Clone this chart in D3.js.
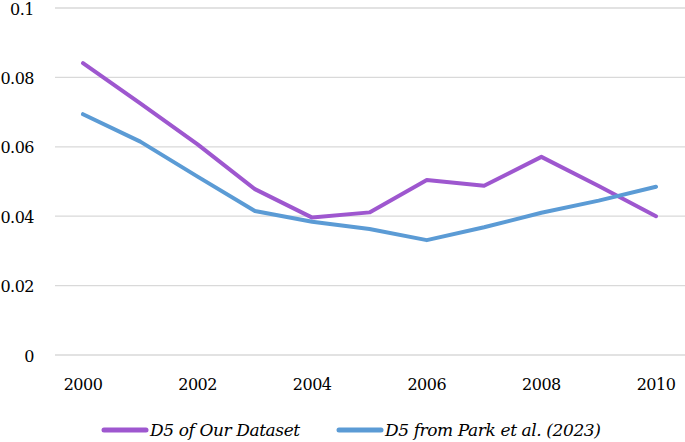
<!DOCTYPE html>
<html>
<head>
<meta charset="utf-8">
<script src="https://cdn.jsdelivr.net/npm/d3@7"></script>
<style>
  body { margin: 0; background: #fff; }
</style>
</head>
<body>
<div id="chart"></div>
<script>
// values
var years = [2000, 2001, 2002, 2003, 2004, 2005, 2006, 2007, 2008, 2009, 2010];
var ourDataset = [0.0841, 0.0725, 0.0607, 0.0478, 0.0396, 0.0411, 0.0504, 0.0488, 0.0571, 0.0487, 0.0400];
var parkData = [0.0694, 0.0615, 0.0514, 0.0415, 0.0384, 0.0363, 0.0331, 0.0368, 0.0410, 0.0445, 0.0485];
var yTicks = [0, 0.02, 0.04, 0.06, 0.08, 0.1];
var xTicks = [2000, 2002, 2004, 2006, 2008, 2010];
var seriesNames = ["D5 of Our Dataset", "D5 from Park et al. (2023)"];
var seriesColors = ["#9e57cf", "#5b9bd5"];

var FONT = "'DejaVu Serif', serif";
var W = 685, H = 442;
var svg = d3.select("#chart").append("svg").attr("width", W).attr("height", H)
    .attr("font-family", FONT);

var x = d3.scaleLinear().domain([2000, 2010]).range([83, 656]);
var y = d3.scaleLinear().domain([0, 0.1]).range([355, 8]);

// gridlines
svg.selectAll("line.grid").data(yTicks).enter().append("line")
    .attr("class", "grid")
    .attr("x1", 55).attr("x2", 685)
    .attr("y1", function(d){ return y(d); })
    .attr("y2", function(d){ return y(d); })
    .attr("stroke", "#d9d9d9").attr("stroke-width", 1.3);

// y labels
svg.selectAll("text.ylab").data(yTicks).enter().append("text")
    .attr("class", "ylab")
    .attr("x", 34).attr("y", function(d){ return y(d) + 1; })
    .attr("dy", "0.35em")
    .attr("text-anchor", "end")
    .style("font-family", FONT)
    .style("font-size", "16px")
    .style("letter-spacing", "-0.5px")
    .text(function(d){ return d === 0 ? "0" : String(+d.toFixed(2)); });

// x labels
svg.selectAll("text.xlab").data(xTicks).enter().append("text")
    .attr("class", "xlab")
    .attr("x", function(d){ return x(d); })
    .attr("y", 390)
    .attr("text-anchor", "middle")
    .style("font-family", FONT)
    .style("font-size", "16px")
    .style("letter-spacing", "-0.5px")
    .text(function(d){ return d; });

var line = d3.line()
    .x(function(d, i){ return x(years[i]); })
    .y(function(d){ return y(d); });

[ourDataset, parkData].forEach(function(s, i){
    svg.append("path")
        .datum(s)
        .attr("d", line)
        .attr("fill", "none")
        .attr("stroke", seriesColors[i])
        .attr("stroke-width", 4)
        .attr("stroke-linejoin", "round")
        .attr("stroke-linecap", "round");
});

// legend
var legendX = [102, 337];
seriesNames.forEach(function(name, i){
    var g = svg.append("g").attr("transform", "translate(" + legendX[i] + ",430)");
    g.append("line")
        .attr("x1", 2).attr("x2", 44)
        .attr("stroke", seriesColors[i]).attr("stroke-width", 5)
        .attr("stroke-linecap", "round");
    g.append("text")
        .attr("x", 48).attr("dy", "0.35em")
        .style("font-family", FONT)
        .style("font-size", "17px")
        .style("font-style", "italic")
        .style("letter-spacing", "-0.4px")
        .text(name);
});
</script>
</body>
</html>
